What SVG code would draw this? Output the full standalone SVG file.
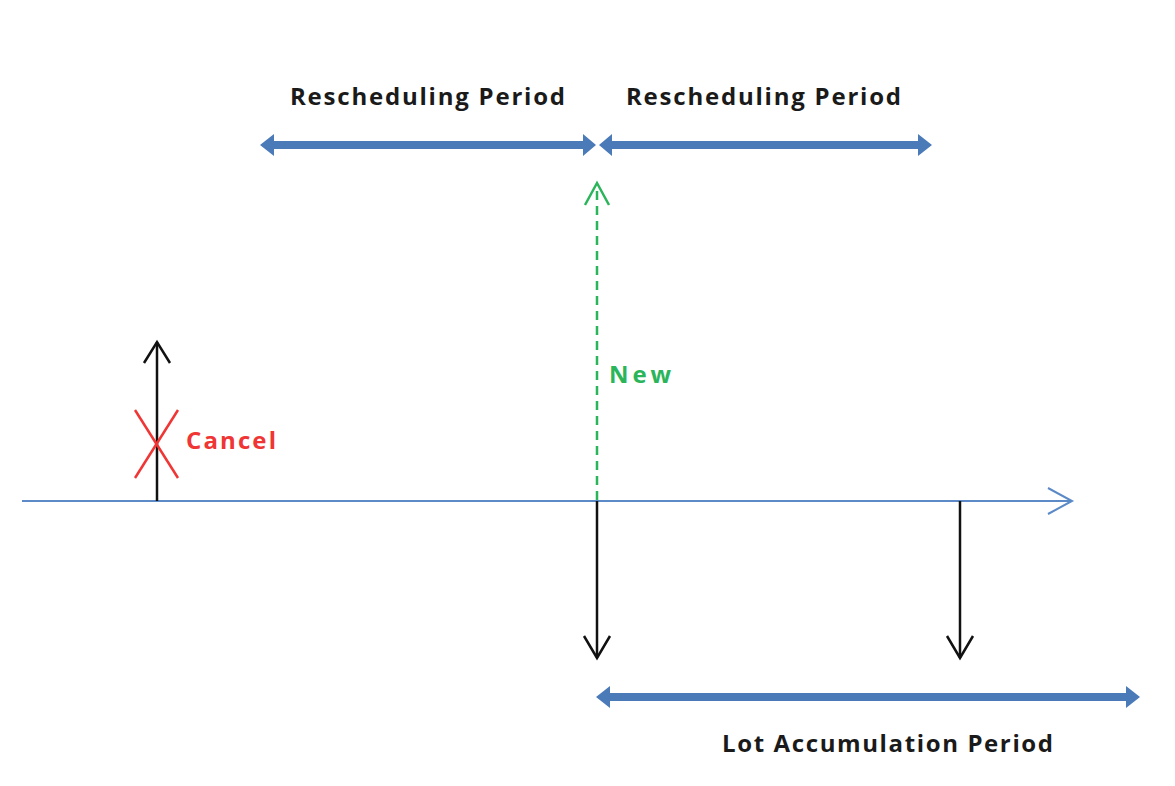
<svg xmlns="http://www.w3.org/2000/svg" width="1175" height="786" viewBox="0 0 1175 786">
<style>
text{font-family:"Open Sans","Liberation Sans",sans-serif;font-weight:bold}
.lbl{font-size:24px;fill:#1a1a1a}
.blue{fill:#4a7ab8}
.blk{stroke:#111;stroke-width:2.5;fill:none}
</style>
<rect width="1175" height="786" fill="#fff"/>
<g id="connectors">
<line x1="22" y1="501" x2="1070" y2="501" stroke="#5b8ac6" stroke-width="2"/>
<polyline points="1048,488 1072,501 1048,514" fill="none" stroke="#5b8ac6" stroke-width="2"/>
<line x1="157" y1="501" x2="157" y2="342" class="blk"/>
<polyline points="144,363 157,342 170,363" class="blk"/>
<line x1="597" y1="501" x2="597" y2="658" class="blk"/>
<polyline points="584,636 597,658 610,636" class="blk"/>
<line x1="960" y1="501" x2="960" y2="658" class="blk"/>
<polyline points="947,636 960,658 973,636" class="blk"/>
<line x1="597" y1="500" x2="597" y2="184" stroke="#2bb55a" stroke-width="2.5" stroke-dasharray="9,6"/>
<polyline points="585,205 597,183 609,205" fill="none" stroke="#2bb55a" stroke-width="2.5"/>
<polygon class="blue" points="260,145 274,134 274,141 583,141 583,134 596,145 583,156 583,149 274,149 274,156"/>
<polygon class="blue" points="599,145 612,134 612,141 918,141 918,134 932,145 918,156 918,149 612,149 612,156"/>
<polygon class="blue" points="596,697 610,686 610,693 1126,693 1126,686 1140,697 1126,708 1126,701 610,701 610,708"/>
</g>
<g id="cancel">
<line x1="135" y1="410" x2="178" y2="478" stroke="#f03535" stroke-width="2.5"/>
<line x1="178" y1="410" x2="135" y2="478" stroke="#f03535" stroke-width="2.5"/>
<text x="186" y="449" font-size="24" fill="#f03535" textLength="90">Cancel</text>
</g>
<g id="new"><text x="609" y="383" font-size="24" fill="#2bb55a" textLength="62">New</text></g>
<g id="r1"><text class="lbl" x="290" y="105" textLength="275">Rescheduling Period</text></g>
<g id="r2"><text class="lbl" x="626" y="105" textLength="275">Rescheduling Period</text></g>
<g id="lot"><text class="lbl" x="722" y="752" textLength="331">Lot Accumulation Period</text></g>
</svg>
